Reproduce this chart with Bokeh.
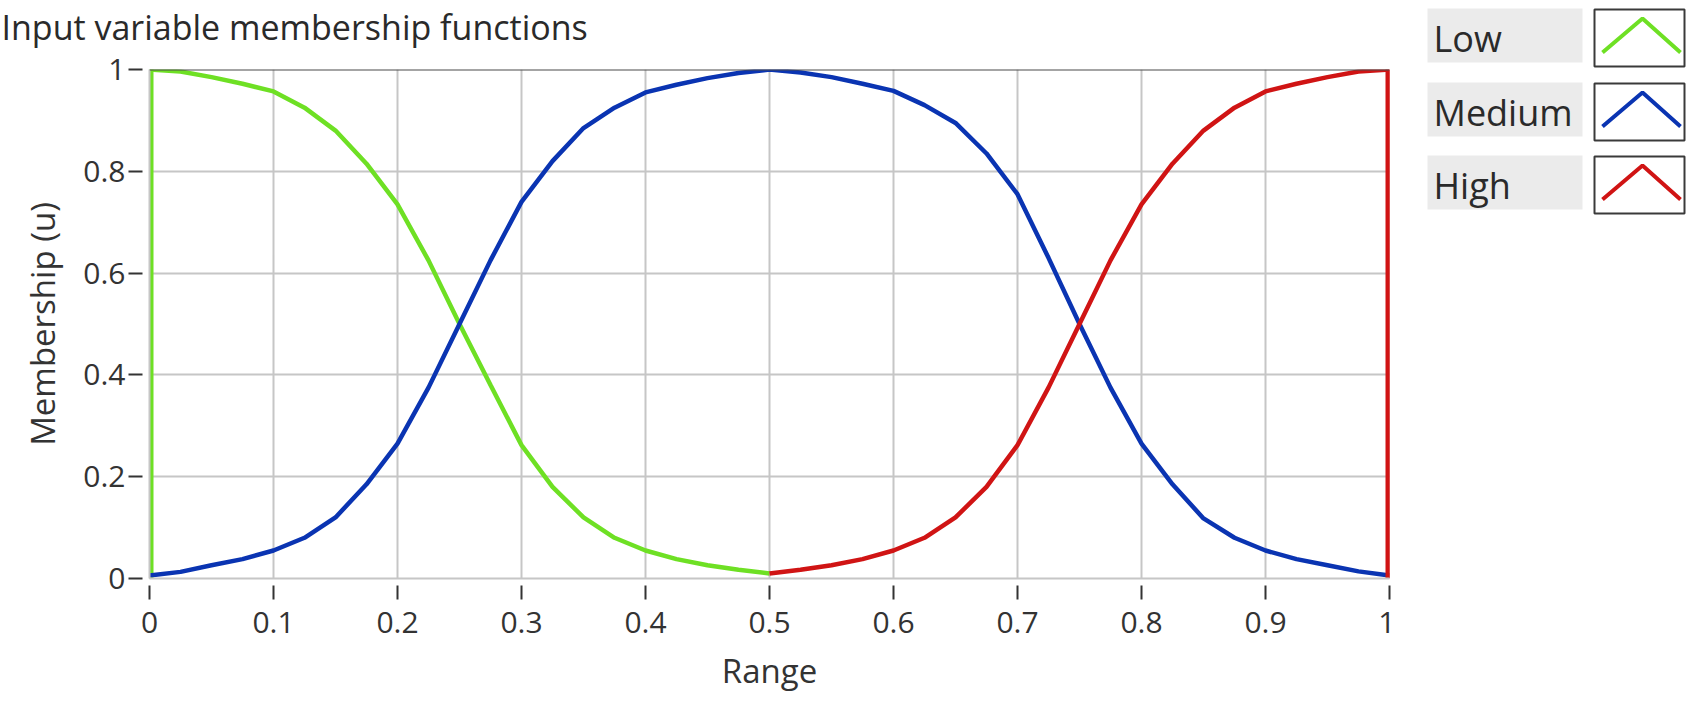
from bokeh.plotting import figure
from bokeh.models import Range1d, FixedTicker, Span
from bokeh.layouts import row, column
from bokeh.embed import file_html
from bokeh.resources import INLINE
from bokeh.core.properties import value

# ---------------- data ----------------
title_text = "Input variable membership functions"
x_axis_label = "Range"
y_axis_label = "Membership (u)"

x_ticks = [0, 0.1, 0.2, 0.3, 0.4, 0.5, 0.6, 0.7, 0.8, 0.9, 1]
x_tick_labels = ["0", "0.1", "0.2", "0.3", "0.4", "0.5", "0.6", "0.7", "0.8", "0.9", "1"]
y_ticks = [0, 0.2, 0.4, 0.6, 0.8, 1]
y_tick_labels = ["0", "0.2", "0.4", "0.6", "0.8", "1"]

series_names = ["Low", "Medium", "High"]
series_colors = ["#6ee024", "#0a34b2", "#d01414"]

range_low = [0.0, 0.0, 0.025, 0.05, 0.075, 0.1, 0.125, 0.15, 0.175, 0.2, 0.225,
             0.25, 0.275, 0.3, 0.325, 0.35, 0.375, 0.4, 0.425, 0.45, 0.475, 0.5]
u_low = [0.0, 1.0, 0.996, 0.985, 0.972, 0.957, 0.925, 0.88, 0.815, 0.735, 0.625,
         0.50, 0.38, 0.262, 0.18, 0.12, 0.08, 0.055, 0.038, 0.026, 0.017, 0.010]

range_medium = [0.0, 0.025, 0.05, 0.075, 0.1, 0.125, 0.15, 0.175, 0.2, 0.225, 0.25,
                0.275, 0.3, 0.325, 0.35, 0.375, 0.4, 0.425, 0.45, 0.475, 0.5,
                0.525, 0.55, 0.575, 0.6, 0.625, 0.65, 0.675, 0.7, 0.725, 0.75,
                0.775, 0.8, 0.825, 0.85, 0.875, 0.9, 0.925, 0.95, 0.975, 1.0]
u_medium = [0.006, 0.013, 0.026, 0.038, 0.055, 0.08, 0.12, 0.185, 0.265, 0.375, 0.50,
            0.625, 0.74, 0.82, 0.885, 0.925, 0.955, 0.97, 0.983, 0.993, 1.0,
            0.994, 0.985, 0.972, 0.958, 0.93, 0.895, 0.835, 0.755, 0.63, 0.50,
            0.375, 0.265, 0.185, 0.118, 0.08, 0.055, 0.038, 0.026, 0.014, 0.006]

range_high = [0.5, 0.525, 0.55, 0.575, 0.6, 0.625, 0.65, 0.675, 0.7, 0.725, 0.75,
              0.775, 0.8, 0.825, 0.85, 0.875, 0.9, 0.925, 0.95, 0.975, 1.0, 1.0]
u_high = [0.010, 0.017, 0.026, 0.038, 0.055, 0.08, 0.12, 0.18, 0.262, 0.375, 0.50,
          0.625, 0.735, 0.815, 0.88, 0.925, 0.957, 0.972, 0.985, 0.996, 1.0, 0.0]

# ---------------- styling / layout ----------------
FONT = "Open Sans"
TEXT_COLOR = "#333333"
GRID_COLOR = "#c6c6c6"
FRAME_COLOR = "#4a4a4a"
W, H = 1688, 704
W_MAIN = 1395
H_TITLE = 48
W_LEG = W - W_MAIN


def bare(fig):
    fig.outline_line_color = None
    fig.grid.visible = False
    fig.frame_align = False
    return fig


# title strip
tfig = bare(figure(width=W_MAIN, height=H_TITLE, x_range=Range1d(0, W_MAIN),
                   y_range=Range1d(H_TITLE, 0), output_backend="svg", toolbar_location=None,
                   min_border=0, x_axis_type=None, y_axis_type=None))
tfig.text(x=[1], y=[26], text=[title_text], text_font=value(FONT), text_font_size="34px",
          text_color="#2a2a2a", text_baseline="alphabetic", text_align="left")

# main chart
p = figure(width=W_MAIN, height=H - H_TITLE, x_range=Range1d(0, 1), y_range=Range1d(0, 1),
           output_backend="svg", toolbar_location=None,
           min_border_left=149, min_border_right=W_MAIN - 1389,
           min_border_top=69 - H_TITLE, min_border_bottom=126,
           x_axis_label=x_axis_label, y_axis_label=y_axis_label)
p.outline_line_color = None
p.frame_align = False

for g in (p.xgrid, p.ygrid):
    g.grid_line_color = GRID_COLOR
    g.grid_line_width = 2
p.xgrid.ticker = FixedTicker(ticks=x_ticks)
p.ygrid.ticker = FixedTicker(ticks=y_ticks)

p.xaxis.ticker = FixedTicker(ticks=x_ticks)
p.xaxis.major_label_overrides = dict(zip(x_ticks, x_tick_labels))
p.yaxis.ticker = FixedTicker(ticks=y_ticks)
p.yaxis.major_label_overrides = dict(zip(y_ticks, y_tick_labels))

for ax in (p.xaxis[0], p.yaxis[0]):
    ax.axis_line_color = GRID_COLOR
    ax.axis_line_width = 2
    ax.major_tick_line_color = TEXT_COLOR
    ax.major_tick_line_width = 2
    ax.major_tick_in = -7
    ax.major_tick_out = 21
    ax.minor_tick_line_color = None
    ax.major_label_text_font = FONT
    ax.major_label_text_font_size = "30px"
    ax.major_label_text_color = TEXT_COLOR
    ax.axis_label_text_font = FONT
    ax.axis_label_text_font_size = "33px"
    ax.axis_label_text_font_style = "normal"
    ax.axis_label_text_color = TEXT_COLOR
p.xaxis.major_label_standoff = 12
p.xaxis.axis_label_standoff = 12
p.yaxis.major_label_standoff = 3
p.yaxis.axis_label_standoff = 15

# top frame edge
p.add_layout(Span(location=y_ticks[-1], dimension="width", line_color=FRAME_COLOR, line_width=2))

# curves
LW = 4.5
p.segment(x0=range_low[0], y0=u_low[0], x1=range_low[1], y1=u_low[1],
          line_color=series_colors[0], line_width=8)
p.line(range_low, u_low, line_color=series_colors[0], line_width=LW)
p.line(range_medium, u_medium, line_color=series_colors[1], line_width=LW)
p.line(range_high, u_high, line_color=series_colors[2], line_width=LW)
p.segment(x0=range_high[-2], y0=u_high[-2], x1=range_high[-1], y1=u_high[-1],
          line_color=series_colors[2], line_width=8)

# legend panel (pixel coordinates of the panel)
leg = bare(figure(width=W_LEG, height=H, x_range=Range1d(0, W_LEG), y_range=Range1d(H, 0),
                  output_backend="svg", toolbar_location=None,
                  min_border=0, x_axis_type=None, y_axis_type=None))
row_top = [8, 82, 155]
row_h = 54
lab_left, lab_right = 32, 187
icon_left, icon_right = 199, 289
icon_h = 57
leg.quad(left=[lab_left] * 3, right=[lab_right] * 3, top=row_top,
         bottom=[t + row_h for t in row_top], fill_color="#ebebeb", line_color=None)
leg.quad(left=[icon_left] * 3, right=[icon_right] * 3, top=[t + 1 for t in row_top],
         bottom=[t + 1 + icon_h for t in row_top], fill_color="white",
         line_color="#3a3a3a", line_width=2)
leg.multi_line(xs=[[207, 247, 285]] * 3,
               ys=[[t + 44, t + 10, t + 44] for t in row_top],
               line_color=series_colors, line_width=4)
leg.text(x=[38] * 3, y=[t + 30 for t in row_top], text=series_names,
         text_font=value(FONT), text_font_size="36px", text_color="#2a2a2a",
         text_baseline="alphabetic", text_align="left")

layout = row(column(tfig, p), leg)
open("out.html", "w").write(file_html(layout, INLINE))
